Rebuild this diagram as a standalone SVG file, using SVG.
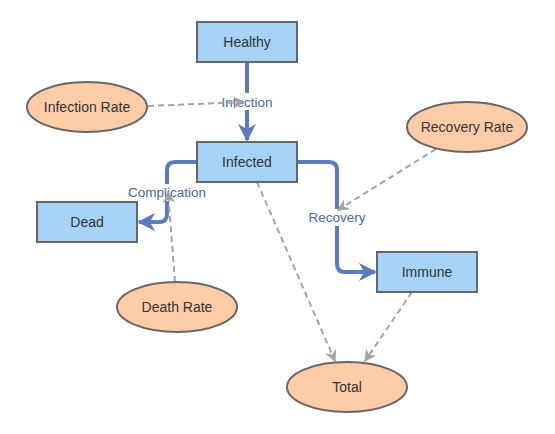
<svg xmlns="http://www.w3.org/2000/svg" width="555" height="434" viewBox="0 0 555 434">
<defs>
<style>
.box{fill:#a6d3f6;stroke:#666;stroke-width:2}
.ell{fill:#fecda7;stroke:#666;stroke-width:2}
.t{font-family:"Liberation Sans",Arial,sans-serif;font-size:14px;fill:#333;text-anchor:middle;dominant-baseline:central}
.lbl{font-family:"Liberation Sans",Arial,sans-serif;font-size:13.5px;fill:#4a64a8;text-anchor:middle;dominant-baseline:central}
.flow{fill:none;stroke:#5b7bbd;stroke-width:4;stroke-linejoin:round}
.dash{fill:none;stroke:#a3a3a3;stroke-width:2;stroke-dasharray:6,4}
</style>
<marker id="fa" viewBox="0 0 10 10" refX="9" refY="5" markerWidth="4.5" markerHeight="4.5" orient="auto" markerUnits="strokeWidth">
<path d="M0,0 L10,5 L0,10 L3,5 Z" fill="#5b7bbd"/>
</marker>
<marker id="da" viewBox="0 0 10 10" refX="9" refY="5" markerWidth="6" markerHeight="6" orient="auto" markerUnits="strokeWidth">
<path d="M0,0 L10,5 L0,10 L3,5 Z" fill="#a3a3a3"/>
</marker>
</defs>
<g id="connectors">
<path class="flow" d="M247,62 L247,140" marker-end="url(#fa)"/>
<path class="flow" d="M197,162 L175,162 Q167,162 167,170 L167,214 Q167,222 159,222 L139,222" marker-end="url(#fa)"/>
<path class="flow" d="M297,162 L329,162 Q337,162 337,170 L337,264 Q337,272 345,272 L375,272" marker-end="url(#fa)"/>
<rect x="216" y="93" width="62" height="17" fill="#fff"/>
<rect x="126" y="184" width="82" height="17" fill="#fff"/>
<rect x="307" y="209" width="60" height="17" fill="#fff"/>
<text class="lbl" x="247" y="102">Infection</text>
<text class="lbl" x="167" y="192">Complication</text>
<text class="lbl" x="337" y="217">Recovery</text>
<path class="dash" d="M148,106 L244,102" marker-end="url(#da)"/>
<path class="dash" d="M175,282 L168,192" marker-end="url(#da)"/>
<path class="dash" d="M436,149 L338,210" marker-end="url(#da)"/>
<path class="dash" d="M257,182 L335,361" marker-end="url(#da)"/>
<path class="dash" d="M412,292 L365,361" marker-end="url(#da)"/>
</g>
<g id="healthy"><rect class="box" x="197" y="22" width="100" height="40"/><text class="t" x="247" y="42">Healthy</text></g>
<g id="infected"><rect class="box" x="197" y="142" width="100" height="40"/><text class="t" x="247" y="162">Infected</text></g>
<g id="dead"><rect class="box" x="37" y="202" width="100" height="40"/><text class="t" x="87" y="222">Dead</text></g>
<g id="immune"><rect class="box" x="377" y="252" width="100" height="40"/><text class="t" x="427" y="272">Immune</text></g>
<g id="infection-rate"><ellipse class="ell" cx="87" cy="107" rx="60" ry="25"/><text class="t" x="87" y="107">Infection Rate</text></g>
<g id="recovery-rate"><ellipse class="ell" cx="467" cy="127" rx="60" ry="25"/><text class="t" x="467" y="127">Recovery Rate</text></g>
<g id="death-rate"><ellipse class="ell" cx="177" cy="307" rx="60" ry="25"/><text class="t" x="177" y="307">Death Rate</text></g>
<g id="total"><ellipse class="ell" cx="347" cy="387" rx="60" ry="25"/><text class="t" x="347" y="387">Total</text></g>
</svg>
